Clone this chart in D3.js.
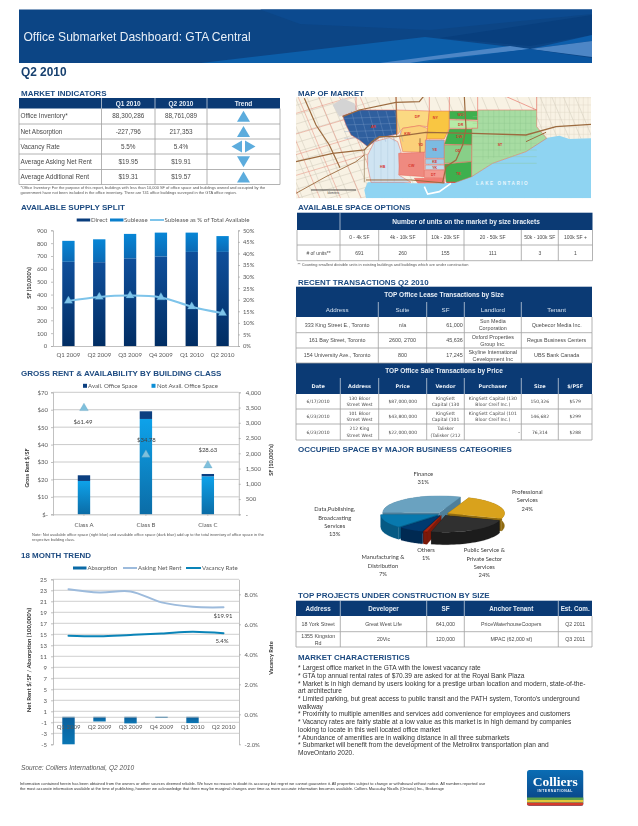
<!DOCTYPE html>
<html>
<head>
<meta charset="utf-8">
<script src="https://cdn.jsdelivr.net/npm/d3@7/dist/d3.min.js"></script>
<style>
html,body{margin:0;padding:0;background:#fff}
svg{display:block;filter:blur(0.3px)}
text{font-family:"Liberation Sans",Arial,sans-serif}
.chart text{font-family:Lato,"Open Sans",sans-serif}
</style>
</head>
<body>
<svg id="page" width="638" height="826" viewBox="0 0 638 826"></svg>
<script>
// ---------- DATA ----------
const quarters = ["Q1 2009","Q2 2009","Q3 2009","Q4 2009","Q1 2010","Q2 2010"];
const supplyDirect = [655,652,682,697,732,732];
const supplySublease = [163,178,190,185,150,123];
const subleasePct = [19.5,21.2,21.8,21.0,17.0,14.2];
const supplyLeftTicks = [0,100,200,300,400,500,600,700,800,900];
const supplyRightTicks = [0,5,10,15,20,25,30,35,40,45,50];

const buildingClasses = ["Class A","Class B","Class C"];
const notAvailSpace = [1093,3126,1246];
const availSpace = [186,251,76];
const grossRent = [61.49,34.78,28.63];
const rentTicks = [0,10,20,30,40,50,60,70];
const spaceTicks = [0,500,1000,1500,2000,2500,3000,3500,4000];

const absorption = [-5,-0.85,-1.2,-0.2,-1.15,0];
const askingNetRent = [23.2,22.6,22.8,20.8,20.0,19.91];
const vacancyRate = [5.24,5.2,5.29,5.38,5.5,5.4];
const trendLeftTicks = [-5,-3,-1,1,3,5,7,9,11,13,15,17,19,21,23,25];
const trendRightTicks = [-2,0,2,4,6,8];

const pieNames = [["Finance"],["Professional","Services"],["Public Service &","Private Sector","Services"],["Others"],["Manufacturing &","Distribution"],["Data,Publishing,","Broadcasting","Services"]];
const pieValues = [31,24,24,1,7,13];

const indicatorHead = ["","Q1 2010","Q2 2010","Trend"];
const indicatorNames = ["Office Inventory*","Net Absorption","Vacancy Rate","Average Asking Net Rent","Average Additional Rent"];
const indicatorQ1 = ["88,300,286","-227,796","5.5%","$19.95","$19.31"];
const indicatorQ2 = ["88,761,089","217,353","5.4%","$19.91","$19.57"];
const indicatorTrend = ["up","up","flat","down","up"];

const sizeBrackets = ["0 - 4k SF","4k - 10k SF","10k - 20k SF","20 - 50k SF","50k - 100k SF","100k SF +"];
const unitCounts = ["691","260","155","111","3","1"];

const leaseHead = ["Address","Suite","SF","Landlord","Tenant"];
const leaseRows = [
 ["333 King Street E., Toronto","n/a","61,000",["Sun Media","Corporation"],"Quebecor Media Inc."],
 ["161 Bay Street, Toronto","2600, 2700","45,636",["Oxford Properties","Group Inc."],"Regus Business Centers"],
 ["154 University Ave., Toronto","800","17,245",["Skyline International","Cevelopment Inc"],"UBS Bank Canada"]];
const saleHead = ["Date","Address","Price","Vendor","Purchaser","Size","$/PSF"];
const saleRows = [
 ["6/17/2010",["130 Bloor","Street West"],"$87,000,000",["","KingSett","Capital (130",""],["KingSett Capital (130","Bloor Creif Inc.)"],"150,326","$579"],
 ["6/23/2010",["101 Bloor","Street West"],"$43,800,000",["","KingSett","Capital (101",""],["KingSett Capital (101","Bloor Creif Inc.)"],"146,682","$299"],
 ["6/23/2010",["212 King","Street West"],"$22,000,000",["","Talisker","(Talisker (212",""],"-","76,314","$288"]];
const projectHead = ["Address","Developer","SF","Anchor Tenant","Est. Com."];
const projectRows = [
 ["18 York Street","Great West Life","641,000","PriceWaterhouseCoopers","Q2 2011"],
 [["1355 Kingston","Rd"],"20Vic","120,000","MPAC (62,000 sf)","Q3 2011"]];
const characteristics = [
 "* Largest office market in the GTA with the lowest vacancy rate",
 "* GTA top annual rental rates of $70.39 are asked for at the Royal Bank Plaza",
 "* Market is in high demand by users looking for a prestige urban location and modern, state-of-the-",
 "art architecture",
 "* Limited parking, but great access to public transit and the PATH system, Toronto's underground",
 "walkway",
 "* Proximity to multiple amenities and services add convenience for employees and customers",
 "* Vacancy rates are fairly stable at a low value as this market is in high demand by companies",
 "looking to locate in this well located office market",
 "* Abundance of amenities are in walking distance in all three submarkets",
 "* Submarket will benefit from the development of the Metrolinx transportation plan and",
 "MoveOntario 2020."];

// ---------- HELPERS ----------
const svg = d3.select("#page");
const defs = svg.append("defs");
const NAVY = "#0b3a74", HEAD = "#1c4a80", GREY = "#595959", RULE = "#a0a0a0", TXT = "#4a4a4a";
function grad(id, c1, c2){
  const g = defs.append("linearGradient").attr("id",id).attr("x1",0).attr("x2",0).attr("y1",0).attr("y2",1);
  g.append("stop").attr("offset",0).attr("stop-color",c1);
  g.append("stop").attr("offset",1).attr("stop-color",c2);
  return `url(#${id})`;
}
function label(parent, x, y, str, o={}){
  const t = parent.append("text").attr("x",x).attr("y",y).text(str)
    .attr("font-size",o.size||6).attr("fill",o.fill||TXT).attr("text-anchor",o.anchor||"start");
  if(o.weight) t.attr("font-weight",o.weight);
  if(o.style) t.attr("font-style",o.style);
  if(o.family) t.style("font-family",o.family);
  if(o.spacing) t.attr("letter-spacing",o.spacing);
  if(o.fit){ const s=+t.attr("font-size"); t.attr("font-size",s*o.fit/t.node().getComputedTextLength()); }
  return t;
}
function heading(x,y,str,w){ label(svg,x,y,str,{size:8,weight:"bold",fill:HEAD,fit:w}); }

let clipN = 0;
function tableRow(xs, y0, y1, cells, o={}){
  const cid = "clip"+(clipN++);
  defs.append("clipPath").attr("id",cid).append("rect").attr("x",xs[0]).attr("y",y0).attr("width",xs[xs.length-1]-xs[0]).attr("height",y1-y0);
  const g = svg.append("g").attr("clip-path",`url(#${cid})`);
  if(o.fill) svg.insert("rect","g").attr("x",xs[0]).attr("y",y0).attr("width",xs[xs.length-1]-xs[0]).attr("height",y1-y0).attr("fill",o.fill);
  const size = o.size||5, lh = o.lh||size*1.42;
  cells.forEach((c,i)=>{
    const lines = Array.isArray(c)?c:[c];
    const al = (o.align&&o.align[i])||"middle";
    const x = al==="start"?xs[i]+1.5: al==="end"?xs[i+1]-1.5:(xs[i]+xs[i+1])/2;
    const mid = (y0+y1)/2;
    lines.forEach((s,k)=>{
      if(!s) return;
      label(g,x,mid+(k-(lines.length-1)/2)*lh+size*0.35,s,{size,anchor:al,fill:o.color||TXT,weight:o.weight,family:o.family});
    });
  });
  const line = o.fill?"#ffffff":RULE;
  xs.slice(1,-1).forEach(x=>svg.append("line").attr("x1",x).attr("x2",x).attr("y1",y0).attr("y2",y1).attr("stroke",line).attr("stroke-width",o.fill?0.6:0.8));
  if(!o.fill){
    [xs[0],xs[xs.length-1]].forEach(x=>svg.append("line").attr("x1",x).attr("x2",x).attr("y1",y0).attr("y2",y1).attr("stroke",RULE).attr("stroke-width",0.8));
    svg.append("line").attr("x1",xs[0]).attr("x2",xs[xs.length-1]).attr("y1",y1).attr("y2",y1).attr("stroke",RULE).attr("stroke-width",0.8);
  }
}
function styleAxis(g, size){
  g.selectAll("path.domain").attr("stroke","#a6a6a6").attr("stroke-width",0.7);
  g.selectAll(".tick line").attr("stroke","#a6a6a6").attr("stroke-width",0.7);
  g.selectAll(".tick text").attr("fill",GREY).attr("font-size",size||5.8);
}
function smoothLine(parent, x, y, vals, color, width){
  parent.append("path").datum(vals)
    .attr("fill","none").attr("stroke",color).attr("stroke-width",width).attr("stroke-linecap","round")
    .attr("d",d3.line().x((d,i)=>x(quarters[i])+x.bandwidth()/2).y(d=>y(d)).curve(d3.curveCatmullRom.alpha(0.5)));
}

// ---------- BANNER ----------
const banner = svg.append("g");
const bx0=19,bx1=592,by0=9.5,by1=63;
[[ "#0c4585",[[bx0,by0],[bx1,by0],[bx1,by1],[bx0,by1]]],
 [ "#0c4a8f",[[260,by0],[bx1,by0],[bx1,14],[430,30],[300,24]]],
 [ "#083f7e",[[440,38],[bx1,15],[bx1,35],[530,46]]],
 [ "#0c5ea9",[[201,by1],[425,37],[530,49],[430,by1]]],
 [ "#0d5eac",[[530,49],[bx1,35],[bx1,41]]],
 [ "#4d86c6",[[380,by1],[510,46],[530,49],[430,by1-3],[410,by1]]],
 [ "#4d86c6",[[530,49],[bx1,41],[bx1,57]]],
 [ "#0a55a0",[[420,by1],[530,49],[bx1,58],[bx1,by1]]]
].forEach(([c,p])=>banner.append("polygon").attr("points",p.join(" ")).attr("fill",c));
label(svg,23.5,41,"Office Submarket Dashboard: GTA Central",{size:12,fill:"#e8eff7",fit:227.5});
label(svg,21,76,"Q2 2010",{size:11.8,weight:"bold",fill:"#17406f",fit:45.5});

// ---------- MARKET INDICATORS ----------
heading(21,95.5,"MARKET INDICATORS",85.5);
const indX=[19,101.5,155,207,280], indY=[108.5,124,139,154,169.5,184.5];
tableRow(indX,98,108.5,indicatorHead,{fill:NAVY,color:"#e8eff7",weight:"bold",size:6.5});
const trendCol="#5cacdd";
indicatorNames.forEach((n,i)=>{
  tableRow(indX,indY[i],indY[i+1],[n,indicatorQ1[i],indicatorQ2[i],""],{size:6.4,align:["start"]});
  const cx=(indX[3]+indX[4])/2, cy=(indY[i]+indY[i+1])/2, s=6.5, h=5.6;
  const tri = p=>svg.append("polygon").attr("points",p.join(" ")).attr("fill",trendCol);
  const k=indicatorTrend[i];
  if(k==="up") tri([[cx,cy-h],[cx+s,cy+h],[cx-s,cy+h]]);
  if(k==="down") tri([[cx,cy+h],[cx+s,cy-h],[cx-s,cy-h]]);
  if(k==="flat"){ tri([[cx-12,cy],[cx-1.5,cy-6],[cx-1.5,cy+6]]); tri([[cx+12,cy],[cx+1.5,cy-6],[cx+1.5,cy+6]]); }
});
label(svg,20.5,188.5,"*Office Inventory: For the purpose of this report, buildings with less than 10,000 SF of office space and buildings owned and occupied by the",{size:3.42,fill:"#555",fit:244.5});
label(svg,20.5,193.8,"government have not been included in the office inventory. There are 741 office buildings surveyed in the GTA office region.",{size:3.42,fill:"#555",fit:215.5});

// ---------- AVAILABLE SUPPLY SPLIT ----------
heading(21,210,"AVAILABLE SUPPLY SPLIT",104);
(function(){
  const g = svg.append("g").attr("class","chart");
  const x = d3.scaleBand().domain(quarters).range([53,238]).paddingInner(0.6).paddingOuter(0.3);
  const y = d3.scaleLinear().domain([0,900]).range([346,230.3]);
  const yR = d3.scaleLinear().domain([0,50]).range([346,230.3]);
  const gD = grad("gDirect","#0f4f9b","#012d63"), gS = grad("gSub","#0786d6","#0b69b4");
  const stack = d3.stack().keys(["d","s"])(quarters.map((q,i)=>({q,d:supplyDirect[i],s:supplySublease[i]})));
  stack.forEach((ser,si)=>{
    g.append("g").selectAll("rect").data(ser).join("rect")
      .attr("x",d=>x(d.data.q)).attr("width",x.bandwidth())
      .attr("y",d=>y(d[1])).attr("height",d=>y(d[0])-y(d[1]))
      .attr("fill",si?gS:gD);
  });
  const ax = g.append("g").attr("transform","translate(53,0)").call(d3.axisLeft(y).tickValues(supplyLeftTicks).tickSize(2).tickPadding(4));
  styleAxis(ax);
  const ar = g.append("g").attr("transform","translate(238,0)").call(d3.axisRight(yR).tickValues(supplyRightTicks).tickFormat(d=>d+"%").tickSize(2).tickPadding(3));
  styleAxis(ar);
  const ab = g.append("g").attr("transform","translate(0,346)").call(d3.axisBottom(x).tickSize(0).tickPadding(7));
  styleAxis(ab,6);
  smoothLine(g,x,yR,subleasePct,"#7ec4ea",2);
  g.append("g").selectAll("path").data(subleasePct).join("path")
    .attr("d",d3.symbol(d3.symbolTriangle,30))
    .attr("transform",(d,i)=>`translate(${x(quarters[i])+x.bandwidth()/2},${yR(d)})`)
    .attr("fill","#7ec4ea").attr("stroke","#4f9fcd").attr("stroke-width",0.3);
  g.append("text").attr("transform","translate(31,283) rotate(-90)").attr("text-anchor","middle")
    .attr("font-size",5.6).attr("font-weight","bold").attr("fill","#333").text("SF (10,000's)");
  const lg=220;
  g.append("rect").attr("x",76.7).attr("y",lg-1.5).attr("width",13.5).attr("height",3).attr("fill","#0a3d7d");
  label(g,91,lg+2,"Direct",{size:6.1,fill:GREY});
  g.append("rect").attr("x",110).attr("y",lg-1.5).attr("width",13.5).attr("height",3).attr("fill","#0a7fcc");
  label(g,124,lg+2,"Sublease",{size:6.1,fill:GREY});
  g.append("line").attr("x1",150).attr("x2",164).attr("y1",lg).attr("y2",lg).attr("stroke","#7ec4ea").attr("stroke-width",2);
  label(g,164.5,lg+2,"Sublease as % of Total Available",{size:6.1,fill:GREY,fit:85});
})();

// ---------- GROSS RENT ----------
heading(21,375.5,"GROSS RENT & AVAILABILITY BY BUILDING CLASS",201);
(function(){
  const g = svg.append("g").attr("class","chart");
  const x = d3.scaleBand().domain(buildingClasses).range([53,238.8]).paddingInner(0.8).paddingOuter(0.4);
  const y = d3.scaleLinear().domain([0,70]).range([514.3,392.3]);
  const yR = d3.scaleLinear().domain([0,4000]).range([514.3,392.3]);
  rentTicks.slice(1).forEach(t=>g.append("line").attr("x1",53).attr("x2",238.8).attr("y1",y(t)).attr("y2",y(t)).attr("stroke","#bdbdbd").attr("stroke-width",0.8));
  const gN = grad("gNot","#0ea2ea","#0b6ca6");
  g.append("g").selectAll("rect").data(notAvailSpace).join("rect")
    .attr("x",(d,i)=>x(buildingClasses[i])).attr("width",x.bandwidth())
    .attr("y",d=>yR(d)).attr("height",d=>yR(0)-yR(d)).attr("fill",gN);
  g.append("g").selectAll("rect").data(availSpace).join("rect")
    .attr("x",(d,i)=>x(buildingClasses[i])).attr("width",x.bandwidth())
    .attr("y",(d,i)=>yR(d+notAvailSpace[i])).attr("height",(d,i)=>yR(notAvailSpace[i])-yR(d+notAvailSpace[i])).attr("fill","#0c3f80");
  const ax = g.append("g").attr("transform","translate(53,0)").call(d3.axisLeft(y).tickValues(rentTicks).tickFormat(d=>d?"$"+d:"$-").tickSize(2).tickPadding(3));
  styleAxis(ax,6);
  const ar = g.append("g").attr("transform","translate(238.8,0)").call(d3.axisRight(yR).tickValues(spaceTicks).tickFormat(d=>d?d3.format(",")(d):"-").tickSize(2).tickPadding(5));
  styleAxis(ar,6);
  const ab = g.append("g").attr("transform","translate(0,514.3)").call(d3.axisBottom(x).tickSize(1.5).tickPadding(7));
  styleAxis(ab,6);
  g.append("g").selectAll("path").data(grossRent).join("path")
    .attr("d",d3.symbol(d3.symbolTriangle,32))
    .attr("transform",(d,i)=>`translate(${x(buildingClasses[i])+x.bandwidth()/2},${y(d)+1})`)
    .attr("fill","#7fc0dc").attr("stroke","#5a9cc0").attr("stroke-width",0.3);
  const off=[14.5,-14,-14];
  grossRent.forEach((d,i)=>label(g,x(buildingClasses[i])+x.bandwidth()/2-(i==0?1:(i==1?-0.5:0)),y(d)+off[i]+2,"$"+d.toFixed(2),{size:6,anchor:"middle",fill:"#404040"}));
  g.append("text").attr("transform","translate(28.5,468) rotate(-90)").attr("text-anchor","middle")
    .attr("font-size",5.4).attr("font-weight","bold").attr("fill","#333").text("Gross Rent $/SF");
  g.append("text").attr("transform","translate(273,460) rotate(-90)").attr("text-anchor","middle")
    .attr("font-size",5.6).attr("font-weight","bold").attr("fill","#333").text("SF (10,000's)");
  g.append("rect").attr("x",83).attr("y",383.8).attr("width",4).attr("height",4).attr("fill","#0c3f80");
  label(g,88,388,"Avail. Office Space",{size:6.1,fill:GREY});
  g.append("rect").attr("x",151.5).attr("y",383.8).attr("width",4).attr("height",4).attr("fill","#0c8ed6");
  label(g,157,388,"Not Avail. Office Space",{size:6.1,fill:GREY,fit:61});
})();
label(svg,32,535.5,"Note: Not available office space (right blue) and available office space (dark blue) add up to the total inventory of office space in the",{size:3.42,fill:"#555",fit:231});
label(svg,32,540.5,"respective building class.",{size:3.42,fill:"#555",fit:43});

// ---------- 18 MONTH TREND ----------
heading(21,558,"18 MONTH TREND",70);
(function(){
  const g = svg.append("g").attr("class","chart");
  const x = d3.scaleBand().domain(quarters).range([53,239]).paddingInner(0.6).paddingOuter(0.3);
  const y = d3.scaleLinear().domain([-5,25]).range([744.3,579.3]);
  const yR = d3.scaleLinear().domain([-2,9]).range([744.3,579.3]);
  trendLeftTicks.slice(1).forEach(t=>g.append("line").attr("x1",53).attr("x2",239).attr("y1",y(t)).attr("y2",y(t)).attr("stroke","#c4c4c4").attr("stroke-width",0.8));
  const gA = grad("gAbs","#0a5f9c","#0a76b4");
  g.append("g").selectAll("rect").data(absorption).join("rect")
    .attr("x",(d,i)=>x(quarters[i])).attr("width",x.bandwidth())
    .attr("y",d=>y(0)).attr("height",d=>y(d)-y(0)).attr("fill",gA);
  const ax = g.append("g").attr("transform","translate(53,0)").call(d3.axisLeft(y).tickValues(trendLeftTicks).tickFormat(d=>String(d)).tickSize(2).tickPadding(4));
  styleAxis(ax,6);
  const ar = g.append("g").attr("transform","translate(239,0)").call(d3.axisRight(yR).tickValues(trendRightTicks).tickFormat(d=>d.toFixed(1)+"%").tickSize(2).tickPadding(3.5).tickSizeOuter(0));
  styleAxis(ar,6);
  const ab = g.append("g").attr("transform",`translate(0,${y(0)})`).call(d3.axisBottom(x).tickSize(0).tickPadding(7.5));
  styleAxis(ab,6);
  ab.selectAll("path.domain").attr("stroke","#bdbdbd");
  smoothLine(g,x,y,askingNetRent,"#9dbbdc",2);
  smoothLine(g,x,yR,vacancyRate,"#0a84b8",2);
  label(g,223,618,"$19.91",{size:6,anchor:"middle",fill:"#404040"});
  label(g,222,642.8,"5.4%",{size:6,anchor:"middle",fill:"#404040"});
  g.append("text").attr("transform","translate(31,660) rotate(-90)").attr("text-anchor","middle")
    .attr("font-size",6).attr("font-weight","bold").attr("fill","#333").text("Net Rent $/SF / Absorption (100,000's)");
  g.append("text").attr("transform","translate(273,658) rotate(-90)").attr("text-anchor","middle")
    .attr("font-size",5.6).attr("font-weight","bold").attr("fill","#333").text("Vacancy Rate");
  const lg=568;
  g.append("rect").attr("x",73).attr("y",lg-1.5).attr("width",13.5).attr("height",3).attr("fill","#0a6aa6");
  label(g,87.5,lg+2,"Absorption",{size:6.1,fill:GREY});
  g.append("line").attr("x1",123).attr("x2",137).attr("y1",lg).attr("y2",lg).attr("stroke","#9dbbdc").attr("stroke-width",2);
  label(g,138,lg+2,"Asking Net Rent",{size:6.1,fill:GREY});
  g.append("line").attr("x1",186).attr("x2",201).attr("y1",lg).attr("y2",lg).attr("stroke","#0a84b8").attr("stroke-width",2);
  label(g,202,lg+2,"Vacancy Rate",{size:6.1,fill:GREY});
})();
label(svg,21,770,"Source: Colliers International, Q2 2010",{size:6.2,style:"italic",fill:"#555",fit:113});
label(svg,20,785,"Information contained herein has been obtained from the owners or other sources deemed reliable. We have no reason to doubt its accuracy but regret we cannot guarantee it. All properties subject to change or withdrawal without notice. All numbers reported use",{size:3.42,fill:"#333",fit:464});
label(svg,20,790,"the most accurate information available at the time of publishing, however we acknowledge that there may be marginal changes over time as more accurate information becomes available. Colliers Macaulay Nicolls (Ontario) Inc., Brokerage",{size:3.42,fill:"#333",fit:424});

// ---------- MAP (schematic backdrop) ----------
heading(298,95.5,"MAP OF MARKET",66);
(function(){
  const mx=d3.scaleLinear().domain([0,885]).range([296,591]);
  const my=d3.scaleLinear().domain([0,310]).range([95,198.3]);
  defs.append("clipPath").attr("id","mapClip").append("rect").attr("x",296).attr("y",97).attr("width",295).attr("height",101.3);
  const g=svg.append("g").attr("clip-path","url(#mapClip)");
  g.append("rect").attr("x",296).attr("y",97).attr("width",295).attr("height",101.3).attr("fill","#f8f2e4");
  const poly=(pts,fill,stroke)=>g.append("polygon").attr("points",pts.map(p=>[mx(p[0]),my(p[1])].join(",")).join(" ")).attr("fill",fill).attr("stroke",stroke||"none").attr("stroke-width",0.5);
  const road=(pts,c,w)=>g.append("polyline").attr("points",pts.map(p=>[mx(p[0]),my(p[1])].join(",")).join(" ")).attr("fill","none").attr("stroke",c).attr("stroke-width",w);
  for(let i=-6;i<26;i++){ road([[i*35-40,0],[i*35+90,310]],"#cfc8b8",0.5); road([[-30,i*28-100],[240,i*28-180]],"#cfc8b8",0.5); }
  for(let i=0;i<6;i++){ road([[i*62-120,0],[i*62+10,310]],"#e58c7c",0.5); road([[-30,i*62-60],[240,i*62-140]],"#e58c7c",0.5); }
  for(let i=0;i<14;i++) road([[722+i*14,0],[722+i*14,140]],"#ddd6c6",0.4);
  for(let i=0;i<6;i++) road([[720,i*22+8],[885,i*22+8]],"#ddd6c6",0.4);
  poly([[110,30],[140,10],[175,25],[185,45],[130,65]],"#d4d4d4");
  poly([[210,310],[205,285],[215,262],[300,257],[345,265],[410,265],[450,264],[525,245],[590,205],[690,170],[745,130],[790,122],[820,132],[885,130],[885,310]],"#8fd4f2");
  const zones=[
   [[140,62],[190,45],[302,45],[302,118],[250,128],[215,155],[190,135],[165,120],[150,90],"#2f5f9e"],
   [[215,180],[235,140],[280,128],[305,140],[315,170],[308,240],[345,262],[225,262],[215,215],"#cfe4f2"],
   [[302,45],[400,48],[395,95],[370,92],[320,100],[305,118],"#fbd982"],
   [[400,48],[460,48],[460,100],[445,132],[390,132],[395,95],"#f9c642"],
   [[320,100],[370,92],[395,100],[387,172],[320,170],[310,125],"#fbd079"],
   [[308,175],[385,172],[385,245],[310,240],"#ef8a80"],
   [[388,135],[445,135],[445,190],[388,190],"#7cbbe2"],
   [[388,192],[445,192],[445,208],[388,208],"#a5cfe9"],
   [[388,210],[445,210],[445,224],[388,224],"#bcdcf0"],
   [[385,226],[445,226],[445,250],[385,248],"#f39a90"],
   [[355,250],[445,250],[445,264],[365,264],"#f27a70"],
   [[460,48],[545,48],[545,75],[460,72],"#3eb04e"],
   [[460,74],[545,78],[545,100],[460,100],"#b6eba7"],
   [[460,102],[530,102],[528,150],[445,148],"#3eb04e"],
   [[445,150],[528,150],[527,200],[445,205],"#88cf88"],
   [[445,207],[527,200],[527,245],[480,262],[450,262],"#3eb04e"],
   [[545,45],[722,45],[722,95],[752,130],[690,170],[590,205],[527,245],[528,100],[545,100],"#a7dca2"]
  ];
  zones.forEach(z=>poly(z.slice(0,-1),z[z.length-1],"#e5675a"));
  for(let i=1;i<11;i++) road([[545+i*16,45],[545+i*16,200-i*4]],"#8cc68a",0.35);
  for(let i=1;i<9;i++) road([[530,45+i*20],[722,45+i*20]],"#8cc68a",0.35);
  for(let i=1;i<7;i++) road([[140+i*26,48],[165+i*26,140]],"#7d9cc8",0.35);
  for(let i=1;i<5;i++) road([[145,50+i*20],[302,45+i*20]],"#7d9cc8",0.35);
  for(let i=1;i<5;i++) road([[215+i*20,130],[215+i*20,262]],"#a9c4d8",0.35);
  [[[180,0],[180,45]],[[300,0],[302,45]],[[400,0],[400,48]],[[460,0],[460,48]],[[545,0],[545,48]],[[722,0],[722,45]],[[620,0],[722,45]]].forEach(p=>road(p,"#e5675a",0.6));
  const br="#9c6b3f";
  road([[0,200],[110,175],[205,165],[228,140],[250,125],[300,125],[390,112],[530,115],[690,120],[780,95],[885,88]],br,1.3);
  road([[505,5],[510,100],[500,150],[480,195],[450,215],[440,262]],br,1.2);
  road([[25,10],[60,90],[100,150],[132,218]],br,1.2);
  road([[140,65],[190,45],[300,22],[370,20],[382,5]],br,1.2);
  road([[300,5],[302,122]],br,1);
  road([[372,130],[372,172]],br,1);
  road([[210,255],[345,255],[445,264]],br,1);
  road([[0,295],[90,245],[180,200],[205,180]],br,0.9);
  road([[205,165],[205,262]],"#a08a6a",0.8);
  road([[690,140],[750,112]],br,1);
  road([[452,262],[478,262]],"#d9453a",1);
  road([[385,275],[395,297],[430,290],[465,265]],"#ffffff",1.6);
  road([[45,285],[180,285]],"#222",0.8);
  label(g,mx(112),my(298),"kilometres",{size:2.6,anchor:"middle",fill:"#444"});
  [["AR",232,95],["DP",364,66],["NY",418,68],["KW",334,115],["YD",374,150],["YE",416,163],["KE",416,200],["YK",416,218],["DT",412,238],["WO",494,58],["DR",494,90],["DW",490,125],["OD",486,167],["TE",488,235],["ST",612,148],["HB",260,216],["CW",346,211]]
    .forEach(d=>label(g,mx(d[1]),my(d[2])+1.2,d[0],{size:3.6,anchor:"middle",fill:"#d8352c",weight:"bold"}));
  label(g,476,185,"LAKE ONTARIO",{size:4.6,fill:"#e9f7fd",weight:"bold",spacing:1.55});
})();

// ---------- AVAILABLE SPACE OPTIONS ----------
heading(298,210,"AVAILABLE SPACE OPTIONS",112.7);
const spX=[297,340,378.7,426.7,464,521.3,558.3,592.5];
svg.append("rect").attr("x",297).attr("y",212.7).attr("width",295.5).attr("height",17.3).attr("fill",NAVY);
svg.append("line").attr("x1",340).attr("x2",340).attr("y1",212.7).attr("y2",230).attr("stroke","#fff").attr("stroke-width",0.6);
label(svg,466,223.5,"Number of units on the market by size brackets",{size:6,anchor:"middle",weight:"bold",fill:"#e8eff7",fit:148});
tableRow(spX,230,245,["",...sizeBrackets],{size:5});
tableRow(spX,245,260.7,["# of units**",...unitCounts],{size:5});
label(svg,297.5,266,"** Counting smallest divisible units in existing buildings and buildings which are under construction",{size:3.2,fill:"#555",fit:170.5});

// ---------- RECENT TRANSACTIONS ----------
heading(298,285,"RECENT TRANSACTIONS Q2 2010",130.7);
const leaseX=[296,378.3,426.7,464.3,521.3,592];
const saleX=[296,340.3,378.7,426.7,464.3,521.3,558.3,592];
tableRow([296,592],286.7,302,["TOP Office Lease Transactions by Size"],{fill:NAVY,color:"#e8eff7",weight:"bold",size:6.5});
tableRow(leaseX,302,317,leaseHead,{fill:NAVY,color:"#d4e0ee",size:6.2});
const leaseY=[317,332.7,348,363];
leaseRows.forEach((r,i)=>tableRow(leaseX,leaseY[i],leaseY[i+1],r,{size:5.4,align:[,, "end"],lh:7}));
tableRow([296,592],363,378,["TOP Office Sale Transactions by Price"],{fill:NAVY,color:"#e8eff7",weight:"bold",size:6.5});
tableRow(saleX,378,394,saleHead,{fill:NAVY,color:"#e8eff7",weight:"bold",size:5,family:"'DejaVu Sans'"});
const saleY=[394,409,424,440];
saleRows.forEach((r,i)=>tableRow(saleX,saleY[i],saleY[i+1],r,{size:4.5,family:"'DejaVu Sans'",lh:6.4,align:i==2?[,,,,"end"]:[]}));

// ---------- OCCUPIED SPACE (3D PIE) ----------
heading(298,452,"OCCUPIED SPACE BY MAJOR BUSINESS CATEGORIES",214);
(function(){
  const g=svg.append("g").attr("class","chart");
  const cx=442.7, cy=514, rx=56.7, ry=16.7, depth=12.5, explode=0.1;
  const topCol=["#6aa2c0","#d9a21c","#303030","#a8230f","#003a70","#0879ae"];
  const sideCol=["#4f7f9a","#8f6a10","#1c1c1c","#7b1a0b","#002a52","#065a84"];
  const arcs=d3.pie().sort(null).startAngle(-Math.PI/2).endAngle(Math.PI*1.5)(pieValues);
  const order=[0,1,5,4,3,2];
  order.forEach(i=>{
    const a=arcs[i], mid=(a.startAngle+a.endAngle)/2;
    const ox=cx+Math.sin(mid)*explode*rx, oy=cy-Math.cos(mid)*explode*ry;
    const P=(t,dz=0)=>[ox+Math.sin(t)*rx, oy-Math.cos(t)*ry+dz];
    const ts=d3.range(0,31).map(k=>a.startAngle+(a.endAngle-a.startAngle)*k/30);
    const top=[[ox,oy],...ts.map(t=>P(t))];
    const outer=[...ts.map(t=>P(t)),...ts.slice().reverse().map(t=>P(t,depth))];
    const face=t=>[[ox,oy],P(t),P(t,depth),[ox,oy+depth]];
    const draw=(pts,c)=>g.append("polygon").attr("points",pts.join(" ")).attr("fill",c).attr("stroke",c).attr("stroke-width",0.2);
    draw(face(a.endAngle),sideCol[i]);
    draw(face(a.startAngle),sideCol[i]);
    draw(outer,sideCol[i]);
    draw(top,topCol[i]);
  });
  const places=[[423.3,474],[527.3,492],[484.3,550.3],[426,550],[383,557.3],[334.7,509.3]];
  pieNames.forEach((n,i)=>{
    const lines=[...n,pieValues[i]+"%"];
    lines.forEach((s,k)=>label(g,places[i][0],places[i][1]+k*8.25+2,s,{size:5.8,anchor:"middle",fill:"#404040"}));
  });
})();

// ---------- TOP PROJECTS ----------
heading(298,597.8,"TOP PROJECTS UNDER CONSTRUCTION BY SIZE",192);
const prX=[296,340.3,426.7,464.3,558.3,592];
tableRow(prX,600.7,616,projectHead,{fill:NAVY,color:"#e8eff7",weight:"bold",size:6.3});
tableRow(prX,616,631.7,projectRows[0],{size:5.3});
tableRow(prX,631.7,647,projectRows[1],{size:5.3,lh:6.8});

// ---------- MARKET CHARACTERISTICS ----------
heading(298,659.5,"MARKET CHARACTERISTICS",112);
const charSize = (function(){
  const t=label(svg,0,-20,characteristics[2],{size:7,fit:288});
  const s=+t.attr("font-size"); t.remove(); return s;
})();
characteristics.forEach((s,i)=>label(svg,298,670.2+i*7.7,s,{size:charSize,fill:"#333"}));

// ---------- LOGO ----------
(function(){
  const g=svg.append("g");
  defs.append("clipPath").attr("id","logoClip").append("rect").attr("x",527).attr("y",770).attr("width",56.5).attr("height",35.8).attr("rx",2.5);
  const c=g.append("g").attr("clip-path","url(#logoClip)");
  c.append("rect").attr("x",527).attr("y",770).attr("width",56.5).attr("height",36).attr("fill",grad("gLogo","#0a6db4","#0a3f80"));
  [["#5aa04a",797.5],["#e0c83a",800],["#d83a2a",802.8]].forEach(([f,y],i)=>c.append("rect").attr("x",527).attr("y",y).attr("width",56.5).attr("height",i==2?3:2.6).attr("fill",f));
  label(g,555.3,785.5,"Colliers",{size:13,weight:"bold",fill:"#fff",anchor:"middle",family:"'Liberation Serif'",fit:45});
  label(g,555.3,791.8,"INTERNATIONAL",{size:3.5,weight:"bold",fill:"#e6eef7",anchor:"middle",spacing:0.55});
})();
</script>
</body>
</html>
